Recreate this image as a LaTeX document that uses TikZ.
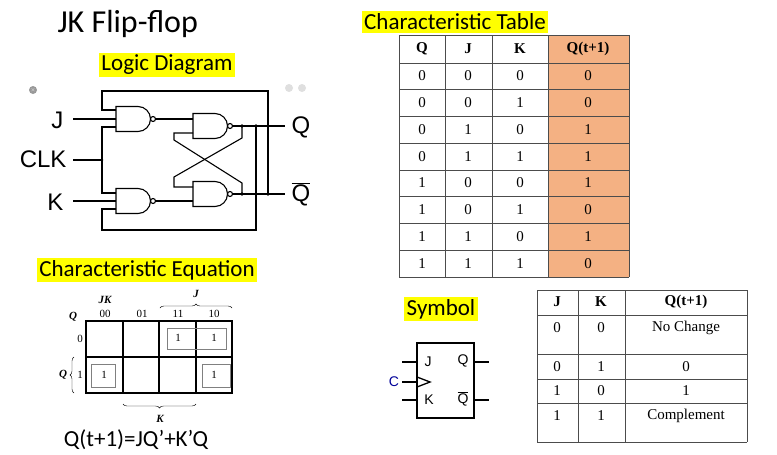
\documentclass[tikz,border=0pt]{standalone}
\usepackage{fontspec}
\setmainfont{Liberation Serif}
\newfontfamily\calf{Carlito}
\newfontfamily\ari{Liberation Sans}
\usetikzlibrary{decorations.pathreplacing}
\definecolor{hl}{HTML}{FFFF00}
\definecolor{org}{HTML}{F4B183}
\newcommand\fs[1]{\fontsize{#1}{#1}\selectfont}
\newcommand\mynand[2]{%
 \draw[wire] (#1,#2-12.5) -- ++(22,0) arc(-90:90:12.5) -- ++(-22,0) -- cycle;
 \draw[wire] (#1+37,#2) circle(2.5);}
\begin{document}
\begin{tikzpicture}[x=1pt,y=-1pt,
 wire/.style={line width=1.1pt},
 lab/.style={fill=hl,inner sep=2.5pt,font=\calf\fs{23}},
 dot/.style={circle,fill,inner sep=1.4pt},
 cell/.style={draw=black!70,line width=0.6pt},
 tt/.style={font=\fs{15}},
 th/.style={font=\bfseries\fs{15}},
 km/.style={font=\fs{11}},
 kmi/.style={font=\itshape\bfseries\fs{11}},
 sl/.style={font=\ari\fs{14}},
 ll/.style={font=\ari\fs{24}}]
\useasboundingbox (0,0) rectangle (777,455);
\node[font=\calf\fs{32},anchor=west] (title) at (54,24) {JK Flip-flop};
\node[lab] (ld) at (167,65) {Logic Diagram};
\node[lab] (ct) at (455,22) {Characteristic Table};
\node[lab] (ce) at (147,270) {Characteristic Equation};
\node[lab] (sy) at (441,309) {Symbol};
% icons
\fill[gray!80] (33,90) circle(4); \node[white,font=\fs{5}] (ix) at (33,90) {$\times$};
\fill[gray!25] (289,88) circle(4); \fill[gray!25] (302,88) circle(4);
% logic diagram
\mynand{116}{119}
\mynand{116}{201}
\mynand{193}{126}
\mynand{193}{194}
\draw[wire] (155,119) -- (193,119);
\draw[wire] (155,201) -- (193,201);
\draw[wire] (73,119) -- (116,119);
\draw[wire] (73,201) -- (116,201);
\draw[wire] (116,110) -- (102,110) -- (102,91) -- (268,91) -- (268,194);
\draw[wire] (116,209) -- (102,209) -- (102,230) -- (256,230) -- (256,126);
\draw[wire] (116,127) -- (102,127) -- (102,193) -- (116,193);
\draw[wire] (73,160) -- (102,160);
\node[dot,inner sep=1pt] (cd) at (102,160) {};
\draw[wire] (193,133) -- (174,133) -- (174,140) -- (242,183) -- (242,194);
\draw[wire] (193,187) -- (174,187) -- (174,177) -- (242,138) -- (242,126);
\draw[wire] (233,126) -- (285,126);
\draw[wire] (233,194) -- (285,194);
\node[dot] (d1) at (242,126) {}; \node[dot] (d2) at (256,126) {};
\node[dot] (d3) at (242,194) {}; \node[dot] (d4) at (268,194) {};
\node[ll,anchor=east] (lJ) at (67,120) {J};
\node[ll,anchor=east] (lC) at (70,159) {CLK};
\node[ll,anchor=east] (lK) at (67,202) {K};
\node[ll,anchor=west] (lQ) at (288,127) {Q};
\node[ll,anchor=west] (lQb) at (288,194) {$\overline{\mbox{Q}}$};
% characteristic table
\fill[org] (548,35) rectangle (629,277);
\foreach \x in {399,445,492,548,629} \draw[cell] (\x,35) -- (\x,277);
\draw[cell] (399,35) -- (629,35);
\foreach \i in {0,...,8} \draw[cell] (399,{63+26.75*\i}) -- (629,{63+26.75*\i});
\node[th] (h1) at (422,49) {Q}; \node[th] (h2) at (468,49) {J};
\node[th] (h3) at (520,49) {K}; \node[th] (h4) at (588,49) {Q(t+1)};
\foreach \q/\j/\k/\r [count=\i from 0] in {0/0/0/0,0/0/1/0,0/1/0/1,0/1/1/1,1/0/0/1,1/0/1/0,1/1/0/1,1/1/1/0}{
 \node[tt] (a\i) at (422,{76+26.75*\i}) {\q};
 \node[tt] (b\i) at (468,{76+26.75*\i}) {\j};
 \node[tt] (c\i) at (520,{76+26.75*\i}) {\k};
 \node[tt] (r\i) at (588,{76+26.75*\i}) {\r};}
% second table
\foreach \x in {537,578,625,747} \draw[cell] (\x,290) -- (\x,442);
\foreach \y in {290,315,354,379,403,442} \draw[cell] (537,\y) -- (747,\y);
\node[th] (g1) at (557,302) {J}; \node[th] (g2) at (601,302) {K}; \node[th] (g3) at (686,302) {Q(t+1)};
\node[tt] (s1) at (557,328) {0}; \node[tt] (s2) at (601,328) {0}; \node[tt] (s3) at (686,328) {No Change};
\node[tt] (s4) at (557,367) {0}; \node[tt] (s5) at (601,367) {1}; \node[tt] (s6) at (686,367) {0};
\node[tt] (s7) at (557,391) {1}; \node[tt] (s8) at (601,391) {0}; \node[tt] (s9) at (686,391) {1};
\node[tt] (s10) at (557,416) {1}; \node[tt] (s11) at (601,416) {1}; \node[tt] (s12) at (686,416) {Complement};
% K-map
\draw[line width=1.4pt] (86,321) rectangle (232,393);
\draw[line width=1.4pt] (86,357) -- (232,357);
\foreach \x in {123,159,196} \draw[line width=1.4pt] (\x,321) -- (\x,393);
\draw[gray,line width=0.7pt] (167,328) rectangle (226,349);
\draw[gray,line width=0.7pt] (91,364) rectangle (115,387);
\draw[gray,line width=0.7pt] (202,364) rectangle (230,387);
\node[kmi] (kjk) at (105,300) {JK};
\node[kmi] (kq) at (73,317) {Q};
\node[km] (k00) at (105,314) {00};
\node[km] (k01) at (142,314) {01};
\node[km] (k11) at (178,314) {11};
\node[km] (k10) at (214,314) {10};
\node[km] (kr0) at (80,339) {0};
\node[km] (kr1) at (80,375) {1};
\node[km] (m1) at (178,338) {1};
\node[km] (m2) at (214,338) {1};
\node[km] (m3) at (104,375) {1};
\node[km] (m4) at (214,375) {1};
\draw[decorate,decoration={brace,amplitude=4pt}] (160,308) -- (232,308);
\node[kmi] (kJ) at (196,294) {J};
\draw[decorate,decoration={brace,amplitude=4pt}] (74,393) -- (74,357);
\node[kmi] (kQ2) at (63,375) {Q};
\draw[decorate,decoration={brace,amplitude=4pt,mirror}] (123,404) -- (196,404);
\node[kmi] (kK) at (160,419) {K};
\node[font=\calf\fs{23}] (eq) at (136,440) {Q(t+1)=JQ’+K’Q};
% symbol
\draw[line width=1.3pt] (417,343) rectangle (474,418);
\draw[line width=1.3pt] (402,362) -- (417,362);
\draw[line width=1.3pt] (402,400) -- (417,400);
\draw[line width=1.3pt] (402,382) -- (417,382);
\draw[line width=1.3pt] (417,377) -- (430,382) -- (417,387);
\draw[line width=1.3pt] (474,362) -- (489,362);
\draw[line width=1.3pt] (474,400) -- (489,400);
\node[sl] (sJ) at (428,362) {J};
\node[sl] (sK) at (429,400) {K};
\node[sl] (sQ) at (463,361) {Q};
\node[sl] (sQb) at (463,399) {$\overline{\mbox{Q}}$};
\node[sl,text=blue!60!black] (sC) at (394,382) {C};
\end{tikzpicture}
\end{document}
